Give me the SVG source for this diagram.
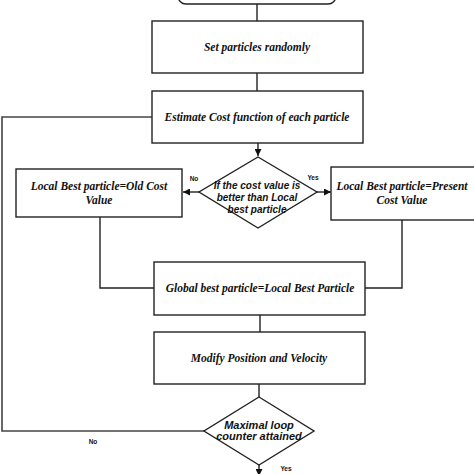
<svg xmlns="http://www.w3.org/2000/svg" width="474" height="474" viewBox="0 0 474 474">
<style>
.box{fill:#fff;stroke:#222;stroke-width:1.4}
.ln{fill:none;stroke:#222;stroke-width:1.4}
.bt{font-family:"Liberation Serif",serif;font-weight:bold;font-style:italic;font-size:11.5px;fill:#111;text-anchor:middle}
.dt{font-family:"Liberation Sans",sans-serif;font-weight:bold;font-style:italic;font-size:10px;fill:#111;text-anchor:middle}
.dt2{font-family:"Liberation Sans",sans-serif;font-weight:bold;font-style:italic;font-size:11px;fill:#111;text-anchor:middle}
.lb{font-family:"Liberation Sans",sans-serif;font-weight:bold;font-size:6.5px;fill:#111;text-anchor:middle}
</style>
<defs>
<marker id="ah" viewBox="0 0 10 10" refX="10" refY="5" markerWidth="7" markerHeight="7" markerUnits="userSpaceOnUse" orient="auto">
<path d="M0,0 L10,5 L0,10 z" fill="#111"/>
</marker>
</defs>
<rect width="474" height="474" fill="#fff"/>
<g id="connectors">
<line class="ln" x1="257" y1="4" x2="257" y2="21"/>
<line class="ln" x1="257" y1="73" x2="257" y2="91"/>
<line class="ln" x1="258" y1="143" x2="258" y2="156" marker-end="url(#ah)"/>
<line class="ln" x1="199" y1="192" x2="183" y2="192" marker-end="url(#ah)"/>
<line class="ln" x1="317" y1="192" x2="331" y2="192" marker-end="url(#ah)"/>
<polyline class="ln" points="100,217 100,288 154,288"/>
<polyline class="ln" points="402,220 402,288 365,288"/>
<line class="ln" x1="260" y1="315" x2="260" y2="332"/>
<line class="ln" x1="259" y1="384" x2="259" y2="397"/>
<polyline class="ln" points="152,117 2,117 2,431 204,431" style="stroke:#444;stroke-width:1.6"/>
<line class="ln" x1="259" y1="465" x2="259" y2="476" marker-end="url(#ah)"/>
<text class="lb" x="194" y="181">No</text>
<text class="lb" x="313" y="180">Yes</text>
<text class="lb" x="93" y="444">No</text>
<text class="lb" x="286" y="471">Yes</text>
</g>
<g id="start"><rect class="box" x="178" y="-20" width="158" height="24" rx="8"/></g>
<g id="set"><rect class="box" x="152" y="21" width="211" height="52"/><text class="bt" x="257" y="51">Set particles randomly</text></g>
<g id="estimate"><rect class="box" x="152" y="91" width="211" height="52"/><text class="bt" x="257" y="121">Estimate Cost function of each particle</text></g>
<g id="decision1"><polygon class="box" points="258,157 317,192 258,228 199,192"/>
<text class="dt" x="257" y="189">If the cost value is</text>
<text class="dt" x="257" y="201">better than Local</text>
<text class="dt" x="257" y="213">best particle</text></g>
<g id="oldcost"><rect class="box" x="16" y="169" width="166" height="48"/><text class="bt" x="99" y="190">Local Best particle=Old Cost</text><text class="bt" x="99" y="204">Value</text></g>
<g id="present"><rect class="box" x="331" y="167" width="145" height="53"/><text class="bt" x="402" y="190">Local Best particle=Present</text><text class="bt" x="402" y="204">Cost Value</text></g>
<g id="global"><rect class="box" x="154" y="262" width="211" height="53"/><text class="bt" x="260" y="292">Global best particle=Local Best Particle</text></g>
<g id="modify"><rect class="box" x="154" y="332" width="211" height="52"/><text class="bt" x="259" y="362">Modify Position and Velocity</text></g>
<g id="decision2"><polygon class="box" points="259,397 314,431 259,465 204,431"/>
<text class="dt2" x="259" y="429">Maximal loop</text>
<text class="dt2" x="259" y="440">counter attained</text></g>
</svg>
